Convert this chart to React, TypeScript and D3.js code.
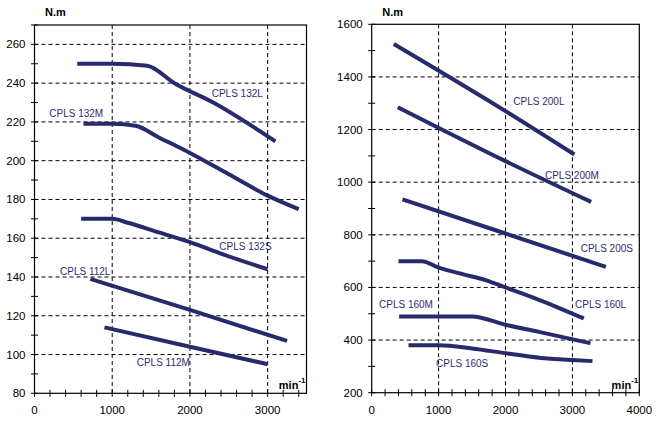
import { useEffect, useRef } from "react";
import * as d3 from "d3";

type Pt = [number, number];

// left panel (N.m vs min-1)
const cpls132L: Pt[] = [[550, 250], [1000, 250], [1450, 249], [1800, 240], [2300, 230], [3100, 210]];
const cpls132M: Pt[] = [[630, 219], [1000, 219], [1300, 218], [1600, 212], [2000, 204], [2500, 193], [3000, 182], [3400, 175]];
const cpls132S: Pt[] = [[600, 170], [1000, 170], [1200, 168], [1600, 163], [2000, 158], [2400, 152], [3000, 144]];
const cpls112L: Pt[] = [[720, 139], [2000, 123], [3250, 107]];
const cpls112M: Pt[] = [[900, 114], [2000, 104], [3000, 95]];

// right panel
const cpls200L: Pt[] = [[330, 1525], [2000, 1270], [3030, 1105]];
const cpls200M: Pt[] = [[390, 1285], [2000, 1080], [3280, 925]];
const cpls200S: Pt[] = [[460, 935], [2000, 805], [3500, 678]];
const cpls160L: Pt[] = [[400, 700], [750, 700], [1000, 675], [1400, 648], [1700, 628], [2000, 600], [2500, 553], [3170, 482]];
const cpls160M: Pt[] = [[410, 490], [1500, 490], [2000, 458], [2500, 431], [3270, 388]];
const cpls160S: Pt[] = [[550, 380], [1000, 380], [1500, 368], [2000, 350], [2500, 333], [3000, 324], [3300, 320]];

const leftYTicks = [80, 100, 120, 140, 160, 180, 200, 220, 240, 260];
const leftXTicks = [0, 1000, 2000, 3000];
const rightYTicks = [200, 400, 600, 800, 1000, 1200, 1400, 1600];
const rightXTicks = [0, 1000, 2000, 3000, 4000];

type Series = { name: string; data: Pt[]; lx: number; ly: number };

const leftSeries: Series[] = [
  { name: "CPLS 132L", data: cpls132L, lx: 2280, ly: 233 },
  { name: "CPLS 132M", data: cpls132M, lx: 190, ly: 222.5 },
  { name: "CPLS 132S", data: cpls132S, lx: 2378, ly: 154 },
  { name: "CPLS 112L", data: cpls112L, lx: 328, ly: 141 },
  { name: "CPLS 112M", data: cpls112M, lx: 1315, ly: 94.3 },
];

const rightSeries: Series[] = [
  { name: "CPLS 200L", data: cpls200L, lx: 2117, ly: 1293 },
  { name: "CPLS 200M", data: cpls200M, lx: 2590, ly: 1012 },
  { name: "CPLS 200S", data: cpls200S, lx: 3124, ly: 735 },
  { name: "CPLS 160L", data: cpls160L, lx: 3039, ly: 522 },
  { name: "CPLS 160M", data: cpls160M, lx: 109, ly: 522 },
  { name: "CPLS 160S", data: cpls160S, lx: 961, ly: 298 },
];

const NAVY = "#272a6b";
const FONT = "'Liberation Sans', Arial, Helvetica, sans-serif";

function drawPanel(
  root: d3.Selection<SVGSVGElement, unknown, null, undefined>,
  opts: {
    x0: number; x1: number; y0: number; y1: number;
    xDomain: [number, number]; yDomain: [number, number];
    xTicks: number[]; yTicks: number[];
    xMinor: number; yMinor: number;
    series: Series[];
  }
) {
  const { x0, x1, y0, y1, xDomain, yDomain, xTicks, yTicks, xMinor, yMinor, series } = opts;
  const x = d3.scaleLinear().domain(xDomain).range([x0, x1]);
  const y = d3.scaleLinear().domain(yDomain).range([y1, y0]);
  const g = root.append("g");

  // dashed grid at major ticks (not on the frame)
  const gx = xTicks.filter((t) => t > xDomain[0] && t < xDomain[1]);
  const gy = yTicks.filter((t) => t > yDomain[0] && t < yDomain[1]);
  g.selectAll(".vg").data(gx).join("line")
    .attr("x1", (d) => x(d)).attr("x2", (d) => x(d))
    .attr("y1", y0).attr("y2", y1)
    .attr("stroke", "#000").attr("stroke-width", 1).attr("stroke-dasharray", "4,3");
  g.selectAll(".hg").data(gy).join("line")
    .attr("x1", x0).attr("x2", x1)
    .attr("y1", (d) => y(d)).attr("y2", (d) => y(d))
    .attr("stroke", "#000").attr("stroke-width", 1).attr("stroke-dasharray", "4,3");

  // frame
  g.append("rect")
    .attr("x", x0).attr("y", y0)
    .attr("width", x1 - x0).attr("height", y1 - y0)
    .attr("fill", "none").attr("stroke", "#000").attr("stroke-width", 1.2);

  // tick marks crossing the axes
  const xt = d3.range(xDomain[0], xDomain[1] + 1, xMinor);
  const yt = d3.range(yDomain[0], yDomain[1] + 1, yMinor);
  g.selectAll(".xt").data(xt).join("line")
    .attr("x1", (d) => x(d)).attr("x2", (d) => x(d))
    .attr("y1", y1 - 3.5).attr("y2", y1 + 3.5)
    .attr("stroke", "#000").attr("stroke-width", 1);
  g.selectAll(".yt").data(yt).join("line")
    .attr("x1", x0 - 3.5).attr("x2", x0 + 3.5)
    .attr("y1", (d) => y(d)).attr("y2", (d) => y(d))
    .attr("stroke", "#000").attr("stroke-width", 1);

  // tick labels
  g.selectAll(".xl").data(xTicks).join("text")
    .attr("x", (d) => x(d)).attr("y", y1 + 21)
    .attr("text-anchor", "middle")
    .style("font-family", FONT).style("font-size", "11.5px").attr("fill", "#000")
    .text((d) => String(d));
  g.selectAll(".yl").data(yTicks).join("text")
    .attr("x", x0 - 9).attr("y", (d) => y(d) + 4)
    .attr("text-anchor", "end")
    .style("font-family", FONT).style("font-size", "11.5px").attr("fill", "#000")
    .text((d) => String(d));

  // unit labels
  g.append("text")
    .attr("x", x0 + 10.5).attr("y", 16)
    .style("font-family", FONT).style("font-size", "11px").style("font-weight", "bold")
    .attr("fill", "#000").text("N.m");
  const mt = g.append("text")
    .attr("x", x1 - 1).attr("y", y1 - 4)
    .attr("text-anchor", "end")
    .style("font-family", FONT).style("font-weight", "bold").attr("fill", "#000");
  mt.append("tspan").style("font-size", "11px").text("min");
  mt.append("tspan").style("font-size", "8px").attr("dy", -6).text("-1");

  // curves
  const line = d3.line<Pt>()
    .x((d) => x(d[0]))
    .y((d) => y(d[1]))
    .curve(d3.curveMonotoneX);
  g.selectAll(".curve").data(series).join("path")
    .attr("d", (s) => line(s.data))
    .attr("fill", "none")
    .attr("stroke", NAVY)
    .attr("stroke-width", 4)
    .attr("stroke-linejoin", "round");

  g.selectAll(".lbl").data(series).join("text")
    .attr("x", (s) => x(s.lx)).attr("y", (s) => y(s.ly))
    .style("font-family", FONT).style("font-size", "10px")
    .attr("fill", "#2b2e6e")
    .text((s) => s.name);
}

function Charts() {
  const ref = useRef<SVGSVGElement>(null);

  useEffect(() => {
    if (!ref.current) return;
    const svg = d3.select(ref.current);
    svg.selectAll("*").remove();
    svg.append("rect").attr("width", 662).attr("height", 426).attr("fill", "#fff");

    drawPanel(svg, {
      x0: 34.5, x1: 306.5, y0: 25, y1: 393.3,
      xDomain: [0, 3500], yDomain: [80, 270],
      xTicks: leftXTicks, yTicks: leftYTicks,
      xMinor: 200, yMinor: 10,
      series: leftSeries,
    });

    drawPanel(svg, {
      x0: 371.7, x1: 639.3, y0: 24.3, y1: 392.7,
      xDomain: [0, 4000], yDomain: [200, 1600],
      xTicks: rightXTicks, yTicks: rightYTicks,
      xMinor: 200, yMinor: 100,
      series: rightSeries,
    });
  }, []);

  return (
    <svg
      ref={ref}
      width={662}
      height={426}
      style={{ position: "absolute", left: 0, top: 0 }}
    />
  );
}

export default function App() {
  return <Charts />;
}
